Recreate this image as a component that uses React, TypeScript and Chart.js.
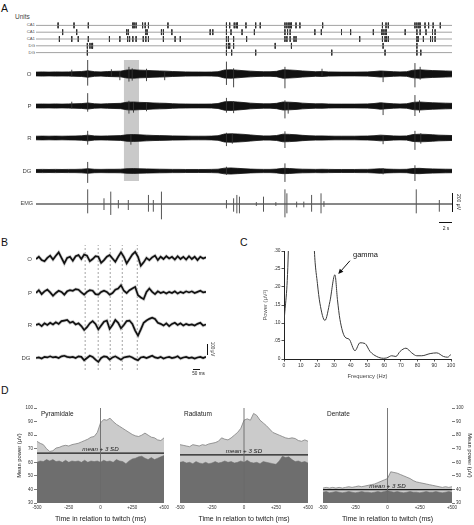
import React, { useEffect, useRef } from "react";
import { Chart, registerables } from "chart.js";
Chart.register(...registerables);

const FONT = "'Liberation Sans', Arial, Helvetica, sans-serif";
Chart.defaults.font.family = FONT;

// ---------------- Panel A: unit raster (spike times, s) ----------------
const unitLabels = ["CA1", "CA1", "CA1", "DG", "DG"];
const unitCA1a = [3.4, 5.85, 8.05, 14.9, 15.1, 15.4, 16.4, 16.8, 17.3, 20.3, 29.3, 29.8, 30.5, 30.8, 31.0, 32.3, 33.8, 34.5, 38.3, 38.6, 38.9, 39.1, 39.3, 40.0, 40.6, 44.1, 53.3, 53.85, 54.2, 58.3, 58.6, 58.9, 59.1, 59.85, 60.4, 61.1, 62.2];
const unitCA1b = [4.1, 6.26, 13.95, 14.2, 16.9, 17.1, 19.3, 19.6, 20.9, 26.8, 27.2, 29.3, 30.0, 31.7, 33.6, 38.3, 38.7, 39.1, 42.9, 43.9, 47.0, 48.4, 51.9, 53.2, 53.4, 53.7, 53.9, 56.8, 58.6, 59.1, 60.0, 61.0, 61.4];
const unitCA1c = [3.6, 5.5, 6.5, 8.05, 11.3, 12.9, 14.1, 14.4, 14.9, 15.4, 16.5, 16.9, 17.3, 19.6, 21.4, 22.2, 29.3, 29.6, 30.4, 32.4, 38.3, 38.6, 39.1, 39.7, 40.0, 49.8, 53.3, 53.7, 53.9, 54.2, 58.6, 58.8, 59.6, 60.7, 61.0, 61.4];
const unitDGa = [7.9, 8.3, 8.6, 8.7, 29.3, 29.6, 29.8, 30.4, 36.8, 39.3, 53.4, 58.6];
const unitDGb = [7.9, 29.3, 30.1, 33.8, 45.5, 53.7, 58.6, 59.2];
const recordStart = 0;
const recordEnd = 64; // s
const highlightWindow = [13.5, 15.85]; // s

// ---------------- Panel A: LFP envelopes (half-width, uV, 1 s bins) ----------------
const envTimes = [0, 1, 2, 3, 4, 5, 6, 7, 8, 9, 10, 11, 12, 13, 14, 15, 16, 17, 18, 19, 20, 21, 22, 23, 24, 25, 26, 27, 28, 29, 30, 31, 32, 33, 34, 35, 36, 37, 38, 39, 40, 41, 42, 43, 44, 45, 46, 47, 48, 49, 50, 51, 52, 53, 54, 55, 56, 57, 58, 59, 60, 61, 62, 63, 64];
const envO = [20, 22, 20, 22, 21, 22, 24, 26, 34, 24, 22, 26, 28, 30, 42, 44, 40, 38, 34, 32, 30, 26, 24, 22, 21, 21, 20, 21, 24, 42, 44, 40, 34, 30, 26, 24, 24, 28, 44, 42, 38, 32, 28, 24, 26, 22, 21, 20, 20, 20, 21, 22, 26, 32, 28, 24, 22, 24, 40, 44, 40, 36, 34, 32, 30];
const envP = [20, 21, 20, 22, 20, 22, 23, 25, 32, 23, 21, 24, 26, 28, 40, 42, 38, 36, 32, 30, 28, 24, 22, 21, 20, 20, 20, 21, 26, 44, 46, 42, 36, 30, 26, 23, 23, 28, 42, 40, 36, 30, 26, 23, 24, 21, 20, 20, 20, 20, 21, 22, 26, 34, 28, 23, 21, 23, 38, 42, 38, 34, 32, 30, 28];
const envR = [19, 20, 19, 20, 19, 20, 21, 23, 30, 22, 20, 22, 23, 25, 34, 36, 33, 30, 27, 25, 24, 22, 21, 20, 19, 19, 19, 20, 24, 42, 44, 42, 38, 32, 26, 22, 22, 26, 40, 38, 34, 28, 24, 22, 22, 20, 19, 19, 19, 19, 20, 21, 24, 30, 26, 22, 20, 22, 36, 40, 38, 34, 30, 28, 26];
const envDG = [16, 17, 16, 17, 16, 17, 17, 19, 24, 18, 17, 18, 18, 19, 24, 25, 23, 22, 20, 19, 18, 17, 17, 16, 16, 16, 16, 17, 19, 30, 32, 28, 24, 20, 18, 17, 17, 20, 28, 26, 22, 19, 18, 17, 18, 17, 16, 16, 16, 16, 17, 17, 20, 24, 20, 18, 17, 18, 26, 28, 24, 22, 20, 19, 18];

// transients (time s, upward uV, downward uV)
const spkOT = [5.5, 7.95, 11.6, 12.9, 14.3, 14.8, 17.0, 19.8, 29.3, 30.4, 38.3, 44.0, 53.4, 58.3, 59.1];
const spkOUp = [45, 147, 50, 25, 75, 60, 55, 25, 130, 60, 75, 55, 30, 115, 75];
const spkODown = [25, 122, 25, 65, 80, 70, 75, 65, 115, 140, 150, 30, 85, 140, 60];
const spkPT = [5.5, 7.95, 14.3, 15.0, 17.0, 29.3, 30.4, 38.3, 38.8, 53.4, 58.3, 59.0];
const spkPUp = [45, 135, 55, 40, 40, 85, 50, 60, 40, 30, 115, 60];
const spkPDown = [25, 60, 80, 70, 55, 70, 75, 130, 80, 95, 105, 70];
const spkRT = [7.95, 14.6, 29.3, 30.2, 38.3, 53.4, 58.3, 59.2];
const spkRUp = [75, 40, 55, 45, 70, 30, 75, 50];
const spkRDown = [70, 70, 85, 60, 105, 65, 125, 60];
const spkDGT = [7.95, 29.3, 38.3, 53.4, 58.3];
const spkDGUp = [95, 45, 80, 30, 60];
const spkDGDown = [125, 40, 115, 35, 105];
const emgT = [7.95, 10.46, 11.5, 12.67, 14.2, 17.3, 18.05, 19.3, 29.3, 30.4, 30.9, 31.3, 33.9, 35.0, 36.9, 38.3, 38.6, 40.1, 41.2, 42.4, 43.85, 44.3, 58.5, 62.05];
const emgUp = [154, 60, 130, 42, 42, 95, 42, 130, 42, 60, 95, 77, 20, 77, 20, 154, 112, 25, 25, 95, 112, 30, 154, 42];
const emgDown = [98, 63, 115, 46, 63, 81, 81, 161, 46, 81, 98, 98, 20, 81, 20, 140, 98, 35, 35, 81, 98, 30, 98, 81];
const traceRangeA = 168; // uV half-range of each trace row

// ---------------- Panel B: expanded traces (uV every 20 ms) ----------------
const bTimes = [0, 20, 40, 60, 80, 100, 120, 140, 160, 180, 200, 220, 240, 260, 280, 300, 320, 340, 360, 380, 400, 420, 440, 460, 480, 500, 520, 540, 560, 580, 600, 620, 640, 660, 680, 700, 720, 740, 760, 780, 800, 820, 840, 860, 880, 900, 920, 940, 960, 980, 1000, 1020, 1040, 1060, 1080, 1100, 1120, 1140, 1160, 1180, 1200];
const bO = [0, 20, -10, -20, 10, 30, -5, 30, 60, 10, -40, 10, 20, -15, 25, 35, 0, 40, 30, -20, 0, 25, 20, -35, -10, 20, 35, 5, -25, 20, 60, 20, -40, 0, 40, 65, 20, -60, -30, 10, -10, 15, 30, -10, 20, 0, 25, 5, 20, -5, 25, 0, 20, -5, 25, 0, 20, -10, 20, 5, 15];
const bP = [0, 25, -10, 15, 30, 5, -25, 0, 20, 10, -15, 15, 25, 20, 35, 30, 5, -15, 10, 25, 20, -10, -15, 10, 20, 10, -15, 0, 30, 40, 70, 20, 0, 25, 40, 55, -20, -40, -55, 10, 40, 10, -10, 15, 0, 10, -5, 10, 0, 15, -5, 10, 0, 15, 5, 15, 0, 10, 20, 5, 10];
const bR = [0, 10, -10, 15, 0, 20, 5, 25, 10, 35, 40, 45, 20, 30, 5, 15, -10, -45, -20, 15, 35, 10, -40, -5, 30, 40, -35, 0, 45, 20, -30, 0, 35, 40, 10, -50, -95, -40, 20, 40, 55, 65, 55, 20, 10, -5, 15, -10, 10, 20, 0, 15, -5, 10, 0, 5, -5, 10, 20, -5, 5];
const bDG = [0, 5, -5, 10, 5, 15, 5, 10, 0, 15, 20, 10, 5, 10, 0, 15, 10, -20, 0, 20, 10, -15, -35, 0, 15, 10, -15, 5, 15, 0, -15, 5, 10, 15, 5, -10, -20, 5, 10, 0, 10, 20, 5, 0, 10, -5, 5, 10, 0, 5, 15, -5, 5, 10, 0, 5, -5, 5, 10, 0, 10];
const bDashTimes = [347, 439, 524, 609, 715];
const bWindow = 1200; // ms
const traceRangeB = 135;

// ---------------- Panel C: power spectrum ----------------
const freqHz = [0, 2.6, 5, 10, 15, 18.2, 20, 21.5, 24.5, 27.5, 30.5, 32, 33.5, 36.5, 39, 42.5, 45.5, 48.5, 51.5, 55.5, 59.5, 61.5, 64.5, 67, 69.5, 73, 76.5, 79.5, 82.5, 87.5, 91.5, 95.5, 98, 100];
const powerUV2 = [0.10, 0.30, 0.9, 1.4, 0.7, 0.30, 0.21, 0.155, 0.107, 0.16, 0.234, 0.165, 0.11, 0.061, 0.055, 0.023, 0.045, 0.043, 0.021, 0.007, 0.002, 0.003, 0.009, 0.007, 0.021, 0.03, 0.017, 0.009, 0.009, 0.015, 0.017, 0.007, 0.005, 0.013];
const cXTicks = [0, 10, 20, 30, 40, 50, 60, 70, 80, 90, 100];
const cYTicks = [0, 0.05, 0.1, 0.15, 0.2, 0.25, 0.3];
const cYTickLabels = ["0", ".05", ".10", ".15", ".20", ".25", ".30"];
const gammaText = [41.3, 0.289];
const gammaArrowTail = [39.5, 0.273];
const gammaArrowHead = [32.5, 0.236];

// ---------------- Panel D: mean power around twitch ----------------
const dTimes = [-500, -475, -450, -425, -400, -375, -350, -325, -300, -275, -250, -225, -200, -175, -150, -125, -100, -75, -50, -25, 0, 25, 50, 75, 100, 125, 150, 175, 200, 225, 250, 275, 300, 325, 350, 375, 400, 425, 450, 475, 500];
const pyrTwitch = [75.4, 74, 73, 70, 68, 68.5, 70.5, 71, 72, 72.5, 72, 73, 73.5, 74, 75, 76, 77, 78.5, 79, 82, 89, 91.5, 91, 92.5, 90, 88, 86.5, 85, 83.5, 82, 80.5, 79.5, 79, 80, 81.5, 80, 78.5, 78, 76.5, 76, 78];
const pyrControl = [60, 61, 60.5, 62, 61, 62, 60.5, 61, 60, 61.5, 60, 61, 60.5, 61, 60, 61.5, 60, 61, 60.5, 61, 60, 61.5, 60.5, 61, 60, 62, 61, 60.5, 59, 61, 62.5, 63, 64, 64.5, 63, 62, 63.5, 62, 63, 64, 65];
const radTwitch = [73, 72.5, 72, 71.5, 73, 72.5, 72, 73, 72.5, 73.5, 74, 74.5, 75.5, 78, 77, 76.5, 78, 80, 82, 85, 91, 92, 91, 96, 94.5, 91, 89, 87, 84.5, 82, 81, 80, 79, 78, 77.5, 78, 77.5, 76, 75.5, 76.5, 75.5];
const radControl = [60, 60.5, 59.5, 60, 59, 60.5, 59.5, 59, 60, 59, 59.5, 60.5, 59.5, 60, 61, 60, 60.5, 59.5, 60, 61, 60, 61.5, 60, 59.5, 60, 59, 60.5, 60, 59.5, 59, 58.5, 61, 64.5, 63.5, 64, 62, 60.5, 61, 60, 60.5, 59.5];
const dgTwitch = [41, 41.5, 41, 41.5, 41, 41.5, 41, 41.5, 42, 41.5, 42, 42.5, 42, 42.5, 43, 43.5, 44, 45, 46, 47, 48, 53, 52.5, 52, 51, 50, 49, 48, 46.5, 45.5, 45, 44.5, 44, 43.5, 43, 42.5, 42, 41.5, 42, 41.5, 42];
const dgControl = [38, 38.5, 37.5, 38, 38.5, 38, 37.5, 38, 38.5, 38, 37.5, 38, 38.5, 38, 38, 37.5, 38, 38.5, 38, 38.5, 39, 38.5, 38, 38.5, 38, 37.5, 38, 38.5, 38, 38, 37.5, 38, 38.5, 38, 38, 38.5, 38, 37.5, 38, 38.5, 38];
const pyrThreshold = 66.8;
const radThreshold = 65.4;
const dgThreshold = 39.8;
const dXTicks = [-500, -250, 0, 250, 500];
const dXTickLabels = ["-500", "-250", "0", "+250", "+500"];
const dYTicks = [30, 40, 50, 60, 70, 80, 90, 100];

// ---------------- helpers ----------------
type Pt = { x: number; y: number | null };

function segs(times: number[], lo: number[], hi: number[]): Pt[] {
  const out: Pt[] = [];
  times.forEach((t, i) => {
    out.push({ x: t, y: lo[i] }, { x: t, y: hi[i] }, { x: t, y: null });
  });
  return out;
}
const neg = (a: number[]) => a.map((v) => -v);
const pairs = (xs: number[], ys: number[]): Pt[] => ys.map((v, i) => ({ x: xs[i], y: v }));

function bareOptions(xmin: number, xmax: number, ymin: number, ymax: number, reverseY = false): any {
  return {
    animation: false,
    responsive: false,
    maintainAspectRatio: false,
    events: [],
    layout: { padding: 0 },
    plugins: { legend: { display: false }, tooltip: { enabled: false } },
    elements: { point: { radius: 0 }, line: { tension: 0 } },
    scales: {
      x: { type: "linear", display: false, min: xmin, max: xmax },
      y: { type: "linear", display: false, min: ymin, max: ymax, reverse: reverseY },
    },
  };
}

function ChartCanvas({ x, y, w, h, make }: { x: number; y: number; w: number; h: number; make: () => any }) {
  const ref = useRef<HTMLCanvasElement | null>(null);
  useEffect(() => {
    if (!ref.current) return;
    const c = new Chart(ref.current, make());
    return () => c.destroy();
  }, []);
  return (
    <canvas
      ref={ref}
      width={w}
      height={h}
      style={{ position: "absolute", left: x, top: y, width: w, height: h }}
    />
  );
}

function Label({ x, y, s, children, align = "left", color = "#222", rot = 0, italic = false }: any) {
  const tx = align === "left" ? "0%" : align === "right" ? "-100%" : "-50%";
  return (
    <div
      style={{
        position: "absolute",
        left: x,
        top: y,
        fontSize: s,
        lineHeight: 1,
        color,
        whiteSpace: "nowrap",
        fontStyle: italic ? "italic" : "normal",
        transform: `translate(${tx}, -50%)${rot ? ` rotate(${rot}deg)` : ""}`,
        transformOrigin: "center",
        WebkitFontSmoothing: "antialiased",
      }}
    >
      {children}
    </div>
  );
}

function Bar({ x, y, w, h }: { x: number; y: number; w: number; h: number }) {
  return <div style={{ position: "absolute", left: x, top: y, width: w, height: h, background: "#111" }} />;
}

// ---------------- chart configs ----------------
function rasterConfig() {
  const rows = [unitCA1a, unitCA1b, unitCA1c, unitDGa, unitDGb];
  const datasets: any[] = [];
  rows.forEach((times, i) => {
    datasets.push({
      data: [{ x: recordStart, y: i }, { x: recordEnd, y: i }],
      borderColor: "#8a8a8a",
      borderWidth: 0.8,
      pointRadius: 0,
    });
    datasets.push({
      data: segs(times, times.map(() => i - 0.42), times.map(() => i + 0.42)),
      borderColor: "#2a2a2a",
      borderWidth: 0.9,
      pointRadius: 0,
      spanGaps: false,
    });
  });
  return { type: "line", data: { datasets }, options: bareOptions(recordStart, recordEnd, -0.5, 4.5, true) };
}

function highlightConfig() {
  return {
    type: "line",
    data: {
      datasets: [
        {
          data: [{ x: highlightWindow[0], y: 1 }, { x: highlightWindow[1], y: 1 }],
          borderWidth: 0,
          pointRadius: 0,
          fill: "start",
          backgroundColor: "#c9c9c9",
        },
      ],
    },
    options: bareOptions(recordStart, recordEnd, 0, 1),
  };
}

function traceConfig(env: number[], spT: number[], spUp: number[], spDown: number[]) {
  return {
    type: "line",
    data: {
      datasets: [
        {
          data: segs(spT, neg(spDown), spUp),
          borderColor: "#333",
          borderWidth: 0.9,
          pointRadius: 0,
          spanGaps: false,
        },
        { data: pairs(envTimes, env), borderColor: "#111", borderWidth: 0.8, pointRadius: 0, fill: false },
        {
          data: pairs(envTimes, neg(env)),
          borderColor: "#111",
          borderWidth: 0.8,
          pointRadius: 0,
          fill: "-1",
          backgroundColor: "#111",
        },
      ],
    },
    options: bareOptions(recordStart, recordEnd, -traceRangeA, traceRangeA),
  };
}

function emgConfig() {
  return {
    type: "line",
    data: {
      datasets: [
        {
          data: segs(emgT, neg(emgDown), emgUp),
          borderColor: "#555",
          borderWidth: 1,
          pointRadius: 0,
          spanGaps: false,
        },
        {
          data: [{ x: recordStart, y: 0 }, { x: recordEnd, y: 0 }],
          borderColor: "#111",
          borderWidth: 1,
          pointRadius: 0,
        },
      ],
    },
    options: bareOptions(recordStart, recordEnd, -traceRangeA, traceRangeA),
  };
}

function guideConfig() {
  return {
    type: "line",
    data: {
      datasets: [
        {
          data: segs(bDashTimes, bDashTimes.map(() => 0), bDashTimes.map(() => 1)),
          borderColor: "#9a9a9a",
          borderWidth: 0.9,
          borderDash: [2, 2],
          pointRadius: 0,
          spanGaps: false,
        },
      ],
    },
    options: bareOptions(0, bWindow, 0, 1),
  };
}

function bTraceConfig(vals: number[]) {
  return {
    type: "line",
    data: {
      datasets: [
        { data: pairs(bTimes, vals), borderColor: "#111", borderWidth: 1.7, pointRadius: 0 },
        { data: pairs(bTimes, vals), borderColor: "#cfcfcf", borderWidth: 3.2, pointRadius: 0 },
      ],
    },
    options: bareOptions(0, bWindow, -traceRangeB, traceRangeB),
  };
}

function spectrumConfig() {
  const gammaPlugin = {
    id: "gammaNote",
    afterDraw(chart: any) {
      const { ctx, scales } = chart;
      const x = scales.x;
      const y = scales.y;
      ctx.save();
      ctx.fillStyle = "#111";
      ctx.strokeStyle = "#111";
      ctx.font = `7.5px ${FONT}`;
      ctx.textBaseline = "middle";
      ctx.fillText("gamma", x.getPixelForValue(gammaText[0]), y.getPixelForValue(gammaText[1]));
      const x1 = x.getPixelForValue(gammaArrowTail[0]);
      const y1 = y.getPixelForValue(gammaArrowTail[1]);
      const x2 = x.getPixelForValue(gammaArrowHead[0]);
      const y2 = y.getPixelForValue(gammaArrowHead[1]);
      const a = Math.atan2(y2 - y1, x2 - x1);
      ctx.lineWidth = 1;
      ctx.beginPath();
      ctx.moveTo(x1, y1);
      ctx.lineTo(x2 - 3 * Math.cos(a), y2 - 3 * Math.sin(a));
      ctx.stroke();
      ctx.beginPath();
      ctx.moveTo(x2, y2);
      ctx.lineTo(x2 - 5 * Math.cos(a) + 2.4 * Math.sin(a), y2 - 5 * Math.sin(a) - 2.4 * Math.cos(a));
      ctx.lineTo(x2 - 5 * Math.cos(a) - 2.4 * Math.sin(a), y2 - 5 * Math.sin(a) + 2.4 * Math.cos(a));
      ctx.closePath();
      ctx.fill();
      ctx.restore();
    },
  };
  return {
    type: "line",
    data: {
      datasets: [
        {
          data: pairs(freqHz, powerUV2),
          borderColor: "#3a3a3a",
          borderWidth: 1,
          pointRadius: 0,
          cubicInterpolationMode: "monotone",
        },
      ],
    },
    plugins: [gammaPlugin],
    options: {
      animation: false,
      responsive: false,
      maintainAspectRatio: false,
      events: [],
      layout: { padding: { left: 0, right: 9, top: 6, bottom: 0 } },
      plugins: { legend: { display: false }, tooltip: { enabled: false } },
      scales: {
        x: {
          type: "linear",
          min: 0,
          max: 100,
          afterBuildTicks: (s: any) => {
            s.ticks = cXTicks.map((v) => ({ value: v }));
          },
          ticks: { font: { size: 5 }, color: "#333", padding: 1, maxRotation: 0, autoSkip: false },
          grid: { display: true, drawOnChartArea: false, drawTicks: true, tickLength: 2.5, color: "#222", lineWidth: 0.8 },
          border: { display: true, color: "#222", width: 1 },
          title: { display: true, text: "Frequency (Hz)", font: { size: 5.8 }, color: "#444", padding: { top: 0, bottom: 7.5 } },
          afterFit: (s: any) => {
            s.height = 28;
          },
        },
        y: {
          type: "linear",
          min: 0,
          max: 0.3,
          afterBuildTicks: (s: any) => {
            s.ticks = cYTicks.map((v) => ({ value: v }));
          },
          ticks: { font: { size: 4.8 }, color: "#333", padding: 1, callback: (_v: any, i: number) => cYTickLabels[i] },
          grid: { display: true, drawOnChartArea: false, drawTicks: true, tickLength: 2.5, color: "#222", lineWidth: 0.8 },
          border: { display: true, color: "#222", width: 1 },
          title: { display: true, text: "Power (μV²)", font: { size: 5.8 }, color: "#555", padding: { top: 22, bottom: 0 } },
          afterFit: (s: any) => {
            s.width = 44;
          },
        },
      },
    },
  };
}

function twitchConfig(twitch: number[], control: number[], thr: number, title: string, side: "left" | "right" | "none") {
  const notes = {
    id: "twitchNotes",
    afterDatasetsDraw(chart: any) {
      const { ctx, chartArea, scales } = chart;
      ctx.save();
      ctx.fillStyle = "#1a1a1a";
      ctx.font = `6.5px ${FONT}`;
      ctx.textBaseline = "middle";
      ctx.textAlign = "left";
      ctx.fillText(title, chartArea.left + 4, chartArea.top + 6.5);
      ctx.font = `italic 6.2px ${FONT}`;
      ctx.textAlign = "center";
      ctx.textBaseline = "bottom";
      ctx.fillText("mean + 3 SD", scales.x.getPixelForValue(0), scales.y.getPixelForValue(thr) - 0.8);
      ctx.restore();
    },
  };
  const padding =
    side === "left"
      ? { left: 0, right: 8, top: 10, bottom: 2 }
      : side === "right"
      ? { left: 7, right: 0, top: 10, bottom: 2 }
      : { left: 8, right: 8, top: 10, bottom: 2 };
  const axisWidth = side === "right" ? 22 : side === "left" ? 37 : 0;
  return {
    type: "line",
    data: {
      datasets: [
        { data: [{ x: 0, y: 30 }, { x: 0, y: 100 }], borderColor: "#6a6a6a", borderWidth: 0.9, pointRadius: 0, order: 0 },
        { data: [{ x: -500, y: thr }, { x: 500, y: thr }], borderColor: "#1a1a1a", borderWidth: 1.3, pointRadius: 0, order: 1 },
        {
          data: pairs(dTimes, control),
          borderColor: "#6c6c6c",
          borderWidth: 0.5,
          backgroundColor: "#6e6e6e",
          fill: "start",
          pointRadius: 0,
          order: 2,
        },
        {
          data: pairs(dTimes, twitch),
          borderColor: "#808080",
          borderWidth: 0.8,
          backgroundColor: "#cbcbcb",
          fill: "start",
          pointRadius: 0,
          order: 3,
        },
      ],
    },
    plugins: [notes],
    options: {
      animation: false,
      responsive: false,
      maintainAspectRatio: false,
      events: [],
      layout: { padding },
      plugins: { legend: { display: false }, tooltip: { enabled: false } },
      elements: { line: { tension: 0 } },
      scales: {
        x: {
          type: "linear",
          min: -500,
          max: 500,
          afterBuildTicks: (s: any) => {
            s.ticks = dXTicks.map((v) => ({ value: v }));
          },
          ticks: { font: { size: 4.5 }, color: "#333", padding: 2, maxRotation: 0, autoSkip: false, callback: (_v: any, i: number) => dXTickLabels[i] },
          grid: { display: false, drawTicks: false },
          border: { display: false },
          title: { display: true, text: "Time in relation to twitch (ms)", font: { size: 7 }, color: "#1a1a1a", padding: { top: 0, bottom: 0 } },
          afterFit: (s: any) => {
            s.height = 20;
          },
        },
        y: {
          type: "linear",
          min: 30,
          max: 100,
          display: side !== "none",
          position: side === "right" ? "right" : "left",
          afterBuildTicks: (s: any) => {
            s.ticks = dYTicks.map((v) => ({ value: v }));
          },
          ticks: { font: { size: 4.5 }, color: "#333", padding: 1 },
          grid: { display: true, drawOnChartArea: false, drawTicks: true, tickLength: 3, color: "#444", lineWidth: 0.7 },
          border: { display: false },
          title: {
            display: true,
            text: "Mean power (μV)",
            font: { size: 5.8 },
            color: "#1a1a1a",
            padding: side === "right" ? { top: 1, bottom: 0 } : { top: 16, bottom: 0 },
          },
          afterFit: (s: any) => {
            s.width = axisWidth;
          },
        },
      },
    },
  };
}

// ---------------- App ----------------
export default function App() {
  const rowY = [25.4, 32.2, 39, 45.8, 52.6];
  return (
    <div
      style={{
        position: "absolute",
        left: 0,
        top: 0,
        width: 474,
        height: 525,
        background: "#fff",
        fontFamily: FONT,
        overflow: "hidden",
      }}
    >
      {/* Panel letters */}
      <Label x={1} y={7.5} s={10.5} color="#111">A</Label>
      <Label x={1} y={242} s={10.5} color="#111">B</Label>
      <Label x={240} y={242} s={10.5} color="#111">C</Label>
      <Label x={1} y={390} s={10.5} color="#111">D</Label>

      {/* Panel A */}
      <Label x={15} y={17} s={6.5} color="#444">Units</Label>
      {unitLabels.map((l, i) => (
        <Label key={i} x={35} y={rowY[i]} s={4.3} align="right" color="#555">{l}</Label>
      ))}
      <ChartCanvas x={36} y={22} w={416} h={34} make={rasterConfig} />
      <ChartCanvas x={36} y={60} w={416} h={121} make={highlightConfig} />
      <ChartCanvas x={36} y={58} w={416} h={32} make={() => traceConfig(envO, spkOT, spkOUp, spkODown)} />
      <ChartCanvas x={36} y={90} w={416} h={32} make={() => traceConfig(envP, spkPT, spkPUp, spkPDown)} />
      <ChartCanvas x={36} y={122} w={416} h={32} make={() => traceConfig(envR, spkRT, spkRUp, spkRDown)} />
      <ChartCanvas x={36} y={155} w={416} h={32} make={() => traceConfig(envDG, spkDGT, spkDGUp, spkDGDown)} />
      <ChartCanvas x={36} y={188} w={416} h={32} make={emgConfig} />
      <Label x={31.5} y={74} s={6} align="right" color="#444">O</Label>
      <Label x={31.5} y={106} s={6} align="right" color="#444">P</Label>
      <Label x={31.5} y={138} s={6} align="right" color="#444">R</Label>
      <Label x={31.5} y={171} s={6} align="right" color="#444">DG</Label>
      <Label x={33} y={204} s={5.5} align="right" color="#444">EMG</Label>
      <Bar x={452} y={193} w={1.3} h={19} />
      <Label x={458} y={202} s={5} align="center" rot={90} color="#222">200 μV</Label>
      <Bar x={439} y={221.5} w={13} h={1} />
      <Label x={446} y={227.5} s={5} align="center" color="#222">2 s</Label>

      {/* Panel B */}
      <ChartCanvas x={36} y={245} w={170} h={125} make={guideConfig} />
      <ChartCanvas x={36} y={243.5} w={170} h={30} make={() => bTraceConfig(bO)} />
      <ChartCanvas x={36} y={277.5} w={170} h={30} make={() => bTraceConfig(bP)} />
      <ChartCanvas x={36} y={310} w={170} h={30} make={() => bTraceConfig(bR)} />
      <ChartCanvas x={36} y={343} w={170} h={30} make={() => bTraceConfig(bDG)} />
      <Label x={32} y={258.5} s={6} align="right" color="#444">O</Label>
      <Label x={32} y={292.5} s={6} align="right" color="#444">P</Label>
      <Label x={32} y={325} s={6} align="right" color="#444">R</Label>
      <Label x={30.5} y={358} s={6} align="right" color="#444">DG</Label>
      <Bar x={207} y={343.5} w={1.2} h={11.5} />
      <Label x={212} y={349} s={4.6} align="center" rot={90} color="#222">100 μV</Label>
      <Bar x={193} y={368.5} w={7} h={1} />
      <Label x={198.5} y={373.5} s={4.6} align="center" color="#222">50 ms</Label>

      {/* Panel C */}
      <ChartCanvas x={240} y={245} w={220} h={142} make={spectrumConfig} />

      {/* Panel D */}
      <ChartCanvas x={0} y={398} w={172} h={127} make={() => twitchConfig(pyrTwitch, pyrControl, pyrThreshold, "Pyramidale", "left")} />
      <ChartCanvas x={172} y={398} w={144} h={127} make={() => twitchConfig(radTwitch, radControl, radThreshold, "Radiatum", "none")} />
      <ChartCanvas x={316} y={398} w={158} h={127} make={() => twitchConfig(dgTwitch, dgControl, dgThreshold, "Dentate", "right")} />
    </div>
  );
}
